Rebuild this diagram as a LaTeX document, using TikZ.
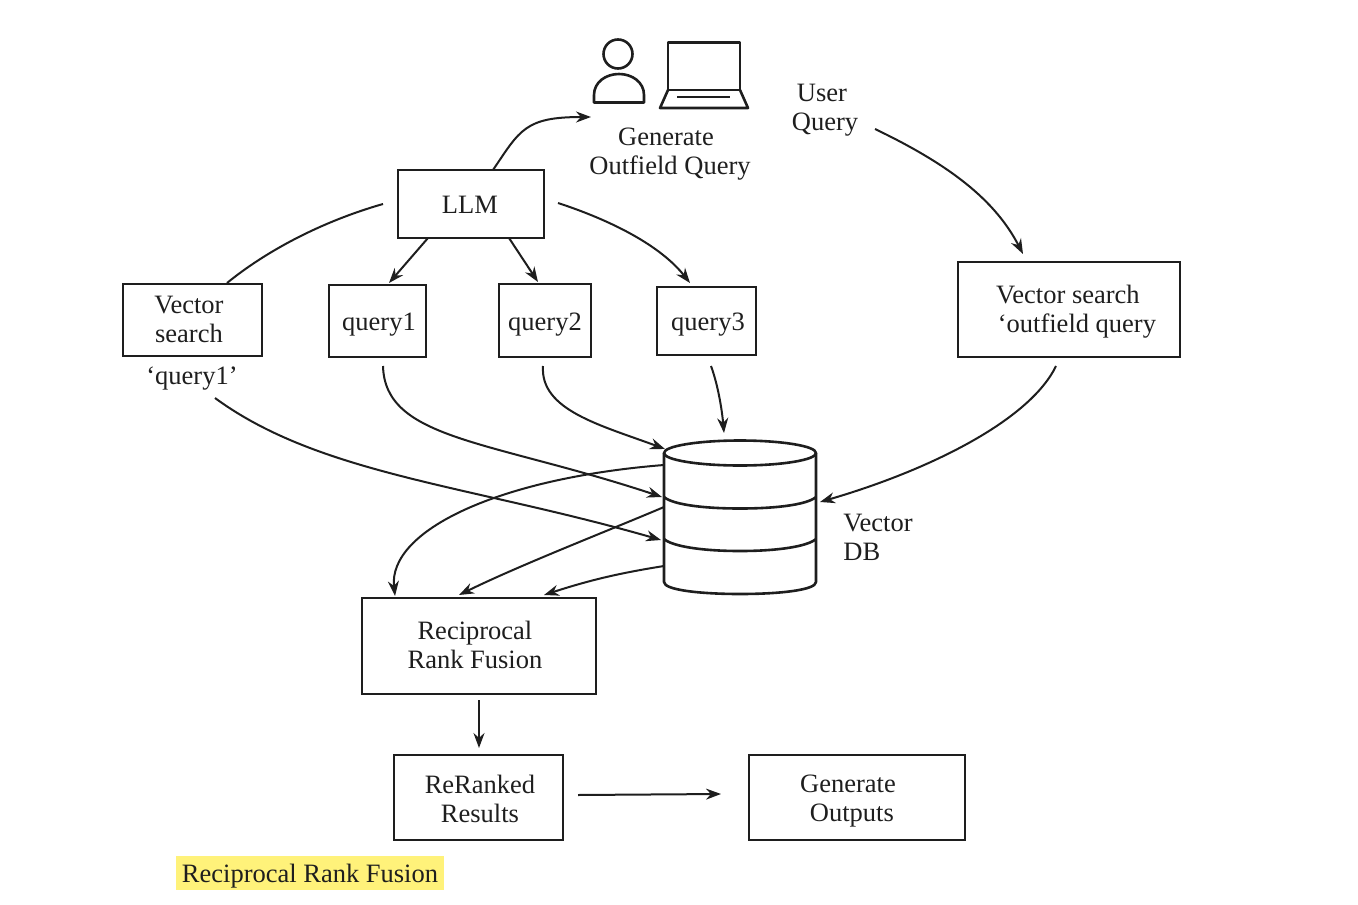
\documentclass[tikz,border=0pt]{standalone}
\usepackage{fontspec}
\setmainfont{Liberation Serif}
\usetikzlibrary{arrows.meta}
\definecolor{ink}{HTML}{1E1E1E}
\definecolor{hilite}{HTML}{FFF27A}
\tikzset{
  box/.style={draw=ink,line width=2.1pt,inner sep=0pt,anchor=north west,outer sep=0pt},
  lbl/.style={font=\fontsize{26.5}{29}\selectfont,text=ink,align=center,inner sep=0pt},
  link/.style={draw=ink,line width=2pt,-{Stealth[length=15pt,width=11pt]}},
  plainlink/.style={draw=ink,line width=2pt},
  icon/.style={draw=ink,line width=2.6pt,line join=round},
}
\newcommand{\boxat}[8]{% name, x1,y1,x2,y2, text x, text y, text
  \pgfmathsetmacro{\bw}{#4-#2-0.1}\pgfmathsetmacro{\bh}{#5-#3-0.1}
  \pgfmathsetmacro{\tdx}{#6-(#2+#4)/2}\pgfmathsetmacro{\tdy}{(#3+#5)/2-#7}
  \node[box,minimum width=\bw pt,minimum height=\bh pt,
        label={[lbl,xshift=\tdx pt,yshift=\tdy pt]center:{#8}}] (#1) at (#2,#3) {};
}
\begin{document}
\begin{tikzpicture}[x=1pt,y=-1pt]
\useasboundingbox (0,0) rectangle (1358,905);
% icons
\draw[icon] (618,54) circle (14.5);
\draw[icon] (594,102.5) -- (594,95) .. controls (594,82) and (606,74) .. (619,74) .. controls (632,74) and (644,82) .. (644,95) -- (644,102.5) -- cycle;
\draw[icon] (668,90) -- (668,42.5) -- (740,42.5) -- (740,90) -- cycle;
\draw[icon] (668,90) -- (660,108) -- (748,108) -- (740,90);
\draw[icon] (677,97) -- (730,97);
% labels
\node[lbl] (genq) at (666,154) {Generate\\\hspace*{8pt}Outfield Query};
\node[lbl] (uq) at (825,110) {\hspace*{-6pt}User\\Query};
\node[lbl,align=left] (vdb) at (878,537) {Vector\\DB};
\node[lbl] (q1lab) at (192,379) {‘query1’};
% boxes
\boxat{llm}{398}{170}{544}{238}{470}{205}{LLM}
\boxat{vs}{123}{284}{262}{356}{189}{319}{Vector\\search}
\boxat{qa}{329}{285}{426}{357}{379}{325}{query1}
\boxat{qb}{499}{284}{591}{357}{545}{325}{query2}
\boxat{qc}{657}{287}{756}{355}{708}{325}{query3}
\boxat{vso}{958}{262}{1180}{357}{1068}{312}{Vector search\\\hspace*{18pt}‘outfield query}
\boxat{rrf}{362}{598}{596}{694}{475}{645}{Reciprocal\\Rank Fusion}
\boxat{rr}{394}{755}{563}{840}{480}{798.5}{ReRanked\\Results}
\boxat{go}{749}{755}{965}{840}{848}{801.5}{Generate\\\hspace*{8pt}Outputs}
% highlighted caption
\node[lbl,fill=hilite,minimum width=268pt,minimum height=34pt] (cap) at (310,873) {\raisebox{-9pt}[0pt][0pt]{Reciprocal Rank Fusion}};
% database
\draw[icon,fill=white] (664,453) -- (664,582) .. controls (664,590) and (700,594) .. (740,594) .. controls (780,594) and (816,590) .. (816,582) -- (816,453);
\draw[icon] (740,453) ellipse (76 and 12.5);
\draw[icon] (664,497) .. controls (672,504) and (700,508.5) .. (740,508.5) .. controls (780,508.5) and (808,504) .. (816,497);
\draw[icon] (664,539) .. controls (672,546) and (700,551) .. (740,551) .. controls (780,551) and (808,546) .. (816,539);
\node[inner sep=0pt,minimum width=152pt,minimum height=153pt] (db) at (740,517.5) {};
% connector ends
\coordinate (a1) at (493,170);   \coordinate (a2) at (591,117);
\coordinate (b1) at (875,129);   \coordinate (b2) at (1023,254);
\coordinate (c1) at (383,204);   \coordinate (c2) at (227,283);
\coordinate (d1) at (428,238);   \coordinate (d2) at (389,283);
\coordinate (e1) at (509,238);   \coordinate (e2) at (538,282);
\coordinate (f1) at (558,203);   \coordinate (f2) at (690,283);
\coordinate (g1) at (383,366);   \coordinate (g2) at (662,497);
\coordinate (h1) at (543,366);   \coordinate (h2) at (665,449);
\coordinate (i1) at (711,366);   \coordinate (i2) at (724,433);
\coordinate (j1) at (215,398);   \coordinate (j2) at (661,540);
\coordinate (k1) at (1056,366);  \coordinate (k2) at (820,502);
\coordinate (l1) at (664,465);   \coordinate (l2) at (395,596);
\coordinate (m1) at (664,507);   \coordinate (m2) at (459,595);
\coordinate (n1) at (664,566);   \coordinate (n2) at (544,595);
\coordinate (o1) at (479,700);   \coordinate (o2) at (479,748);
\coordinate (p1) at (578,795);   \coordinate (p2) at (721,794);
% connectors
\draw[link] (a1) .. controls (520,130) and (525,117) .. (a2);
\draw[link] (b1) .. controls (950,165) and (995,200) .. (b2);
\draw[plainlink] (c1) .. controls (320,222) and (265,252) .. (c2);
\draw[link] (d1) -- (d2);
\draw[link] (e1) -- (e2);
\draw[link] (f1) .. controls (610,220) and (660,245) .. (f2);
\draw[link] (g1) .. controls (385,440) and (490,440) .. (g2);
\draw[link] (h1) .. controls (540,410) and (600,425) .. (h2);
\draw[link] (i1) .. controls (718,385) and (722,410) .. (i2);
\draw[link] (j1) .. controls (320,475) and (470,485) .. (j2);
\draw[link] (k1) .. controls (1030,420) and (930,470) .. (k2);
\draw[link] (l1) .. controls (500,478) and (388,530) .. (l2);
\draw[link] (m1) .. controls (610,530) and (520,565) .. (m2);
\draw[link] (n1) .. controls (620,573) and (590,580) .. (n2);
\draw[link] (o1) -- (o2);
\draw[link] (p1) -- (p2);
\end{tikzpicture}
\end{document}
